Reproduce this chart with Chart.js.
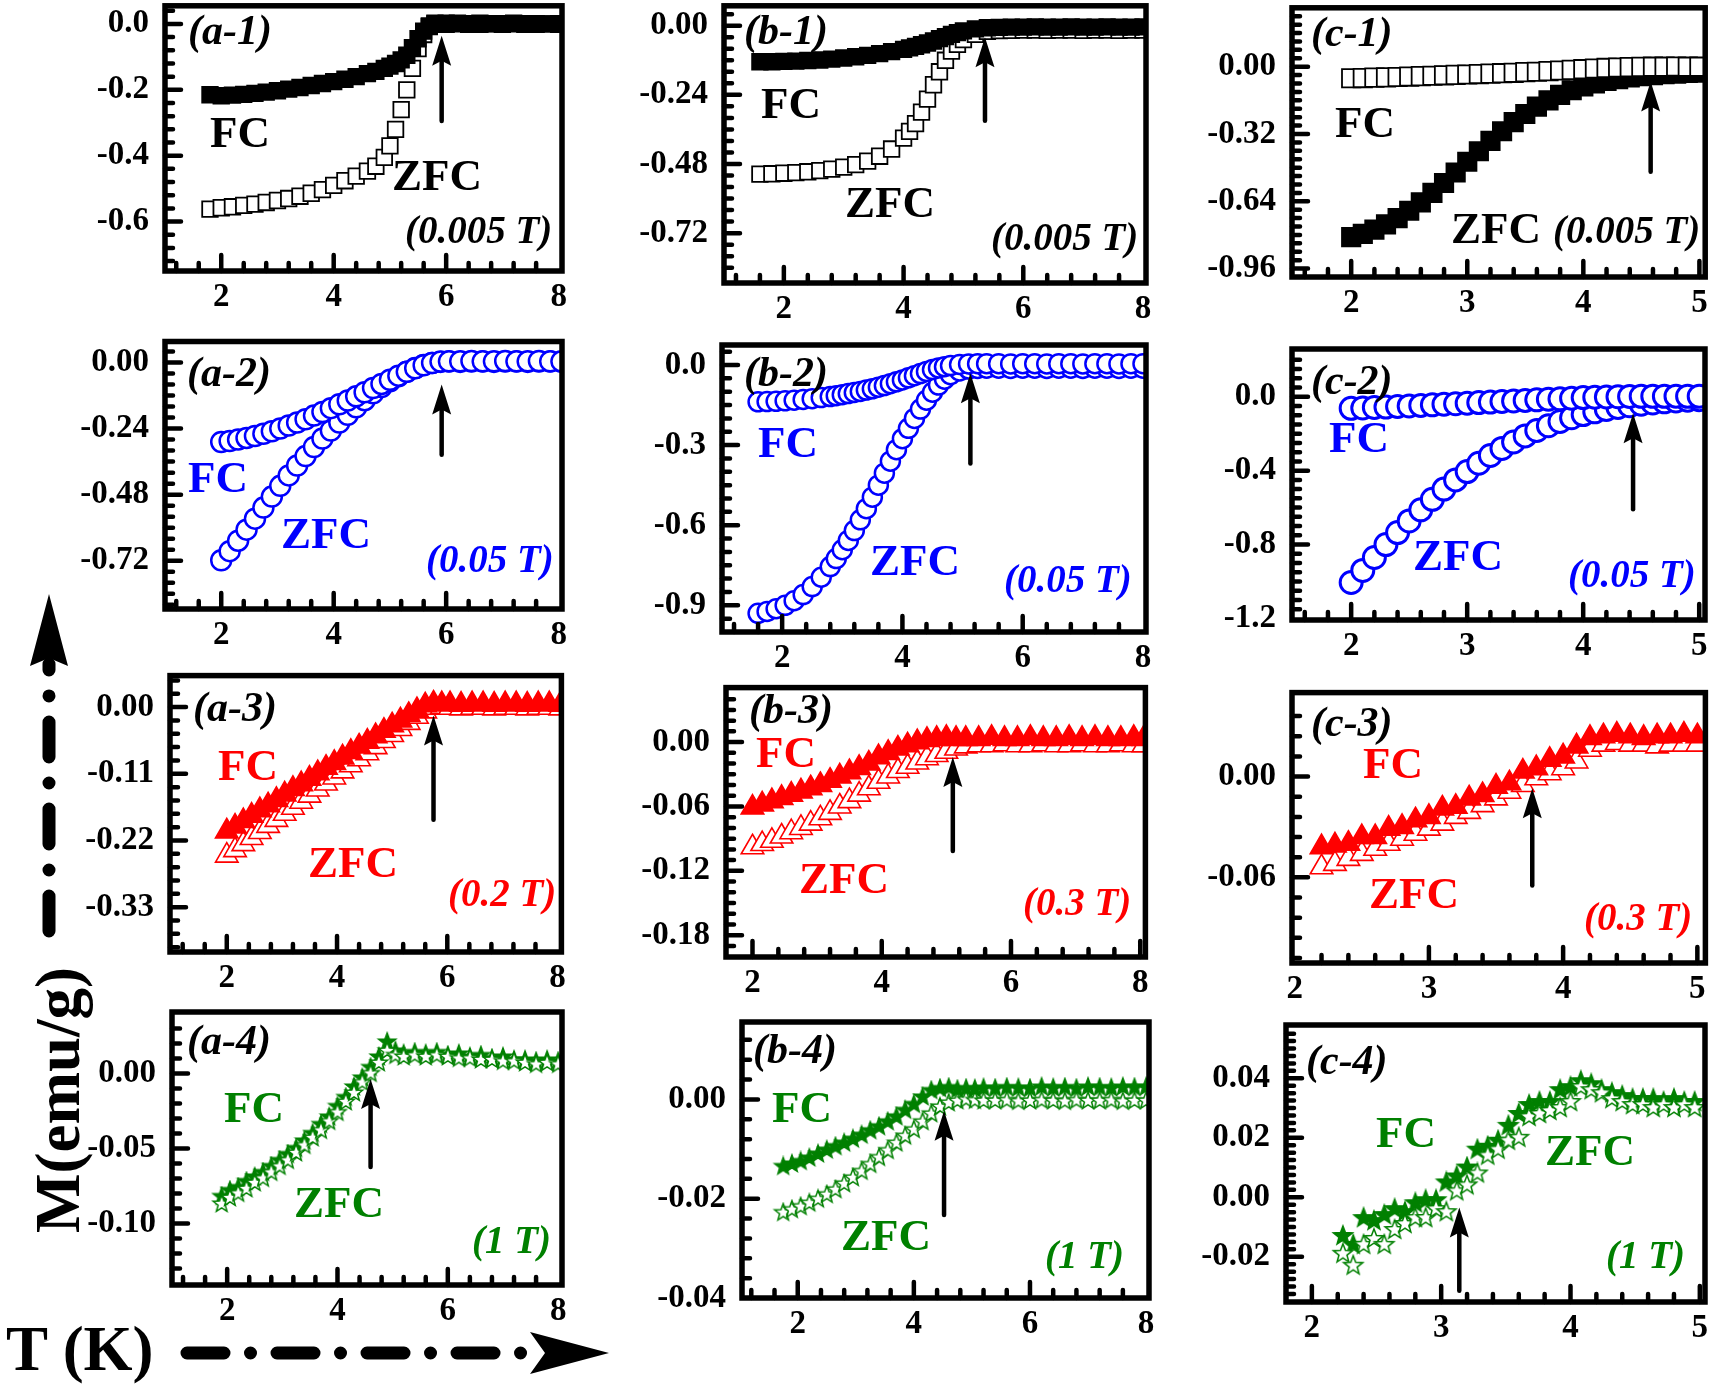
<!DOCTYPE html>
<html>
<head>
<meta charset="utf-8">
<script src="https://cdn.jsdelivr.net/npm/chart.js@4.4.0/dist/chart.umd.min.js"></script>
<style>
  html, body { margin: 0; padding: 0; background: #fff; }
  body { width: 1720px; height: 1385px; position: relative; overflow: hidden; }
  canvas.panel { position: absolute; }
  #axes { position: absolute; left: 0; top: 0; }
  #ylabel { position: absolute; left: 58px; top: 1100px; transform: translate(-50%, -50%) rotate(-90deg);
            font: bold 63px "Liberation Serif", serif; line-height: 1; white-space: nowrap; }
  #xlabel { position: absolute; left: 6px; top: 1318px; font: bold 63px "Liberation Serif", serif;
            line-height: 1; white-space: nowrap; }
</style>
</head>
<body>
<svg id="axes" width="1720" height="1385">
  <line x1="49" y1="931" x2="49" y2="664" stroke="#000" stroke-width="13" stroke-linecap="round" stroke-dasharray="35 26 0.01 26"/>
  <polygon points="49,594 68,666 49,658 30,666" fill="#000"/>
  <line x1="187" y1="1353" x2="536" y2="1353" stroke="#000" stroke-width="13" stroke-linecap="round" stroke-dasharray="37 26.5 0.01 26.5"/>
  <polygon points="530,1332 609,1353 530,1374 545,1353" fill="#000"/>
</svg>
<div id="ylabel">M(emu/g)</div>
<div id="xlabel">T (K)</div>
<script>
// ---- tick labels ----
const xTicksAB = [2, 4, 6, 8];
const xTicksC = [2, 3, 4, 5];
const a1Y = [-0.6, -0.4, -0.2, 0];
const b1Y = [-0.72, -0.48, -0.24, 0];
const c1Y = [-0.96, -0.64, -0.32, 0];
const a2Y = [-0.72, -0.48, -0.24, 0];
const b2Y = [-0.9, -0.6, -0.3, 0];
const c2Y = [-1.2, -0.8, -0.4, 0];
const a3Y = [-0.33, -0.22, -0.11, 0];
const b3Y = [-0.18, -0.12, -0.06, 0];
const c3Y = [-0.06, 0];
const a4Y = [-0.1, -0.05, 0];
const b4Y = [-0.04, -0.02, 0];
const c4Y = [-0.02, 0, 0.02, 0.04];

// ---- measured data: T (K) and M (emu/g) ----
const a1T = [1.8, 2.0, 2.2, 2.4, 2.6, 2.8, 3.0, 3.2, 3.4, 3.6, 3.8, 4.0, 4.2, 4.4, 4.6, 4.75, 4.9,
  5.0, 5.1, 5.2, 5.3, 5.4, 5.5, 5.6, 5.7, 5.8, 6.0, 6.2, 6.4, 6.6, 6.8, 7.0, 7.2, 7.4, 7.6, 7.8, 8.0];
const a1FC = [-0.215, -0.218, -0.216, -0.214, -0.211, -0.207, -0.203, -0.198, -0.193, -0.187, -0.181, -0.175,
  -0.168, -0.16, -0.151, -0.144, -0.135, -0.128, -0.12, -0.109, -0.095, -0.072, -0.045, -0.022, -0.006, 0.002,
  0.002, 0.002, 0.001, 0.002, 0.001, 0.001, 0.002, 0.001, 0.001, 0.0, 0.001];
const a1ZFC = [-0.562, -0.558, -0.555, -0.551, -0.547, -0.542, -0.536, -0.53, -0.523, -0.514, -0.503, -0.49,
  -0.476, -0.462, -0.447, -0.432, -0.405, -0.37, -0.32, -0.26, -0.2, -0.135, -0.075, -0.032, -0.008, 0.0,
  -0.001, 0.0, -0.001, -0.001, 0.0, -0.001, 0.0, -0.001, -0.001, 0.0, -0.001];

const b1T = [1.6, 1.8, 2.0, 2.2, 2.4, 2.6, 2.8, 3.0, 3.2, 3.4, 3.6, 3.8, 4.0, 4.1, 4.2, 4.3, 4.4, 4.5, 4.6,
  4.7, 4.8, 4.9, 5.0, 5.2, 5.4, 5.6, 5.8, 6.0, 6.2, 6.4, 6.6, 6.8, 7.0, 7.2, 7.4, 7.6, 7.8, 8.0];
const b1FC = [-0.125, -0.125, -0.124, -0.123, -0.121, -0.119, -0.116, -0.112, -0.108, -0.103, -0.097, -0.090,
  -0.082, -0.077, -0.072, -0.066, -0.060, -0.053, -0.045, -0.038, -0.030, -0.024, -0.018, -0.011, -0.007,
  -0.006, -0.005, -0.005, -0.004, -0.005, -0.005, -0.004, -0.005, -0.005, -0.004, -0.005, -0.005, -0.004];
const b1ZFC = [-0.515, -0.514, -0.512, -0.510, -0.507, -0.503, -0.498, -0.491, -0.482, -0.470, -0.453, -0.428,
  -0.39, -0.367, -0.34, -0.30, -0.255, -0.205, -0.16, -0.12, -0.088, -0.065, -0.048, -0.03, -0.02, -0.017,
  -0.016, -0.015, -0.015, -0.016, -0.015, -0.015, -0.016, -0.015, -0.015, -0.016, -0.015, -0.015];

const c1T = [2.0, 2.1, 2.2, 2.3, 2.4, 2.5, 2.6, 2.7, 2.8, 2.9, 3.0, 3.1, 3.2, 3.3, 3.4, 3.5, 3.6, 3.7, 3.8,
  3.9, 4.0, 4.1, 4.2, 4.3, 4.4, 4.5, 4.6, 4.7, 4.8, 4.9, 5.0];
const c1FC = [-0.055, -0.054, -0.052, -0.051, -0.049, -0.047, -0.045, -0.043, -0.041, -0.039, -0.037, -0.035,
  -0.033, -0.031, -0.029, -0.026, -0.024, -0.021, -0.018, -0.015, -0.012, -0.009, -0.006, -0.004, -0.002,
  -0.001, 0.0, 0.0, 0.001, 0.0, 0.0];
const c1ZFC = [-0.81, -0.795, -0.775, -0.75, -0.72, -0.685, -0.645, -0.60, -0.553, -0.503, -0.452, -0.402,
  -0.353, -0.307, -0.264, -0.225, -0.19, -0.16, -0.134, -0.112, -0.094, -0.080, -0.068, -0.059, -0.051,
  -0.045, -0.04, -0.036, -0.033, -0.03, -0.028];

const a2T = [2.0, 2.15, 2.3, 2.45, 2.6, 2.75, 2.9, 3.05, 3.2, 3.35, 3.5, 3.65, 3.8, 3.95, 4.1, 4.25, 4.4,
  4.55, 4.7, 4.85, 5.0, 5.15, 5.3, 5.45, 5.6, 5.75, 5.9, 6.05, 6.25, 6.45, 6.65, 6.85, 7.05, 7.25, 7.45,
  7.65, 7.85, 8.05];
const a2FC = [-0.289, -0.285, -0.28, -0.274, -0.267, -0.259, -0.25, -0.24, -0.229, -0.218, -0.206, -0.193,
  -0.18, -0.166, -0.152, -0.138, -0.123, -0.108, -0.093, -0.078, -0.063, -0.048, -0.034, -0.021, -0.01,
  -0.002, 0.003, 0.004, 0.004, 0.005, 0.004, 0.004, 0.005, 0.004, 0.004, 0.005, 0.004, 0.004];
const a2ZFC = [-0.718, -0.685, -0.647, -0.607, -0.567, -0.527, -0.487, -0.448, -0.41, -0.374, -0.34, -0.307,
  -0.276, -0.247, -0.218, -0.19, -0.163, -0.137, -0.112, -0.089, -0.068, -0.05, -0.034, -0.02, -0.009,
  -0.002, 0.002, 0.003, 0.002, 0.003, 0.003, 0.002, 0.003, 0.003, 0.002, 0.003, 0.003, 0.002];

const b2T = [1.6, 1.75, 1.9, 2.05, 2.2, 2.35, 2.5, 2.65, 2.8, 2.9, 3.0, 3.1, 3.2, 3.3, 3.4, 3.5, 3.6, 3.7,
  3.8, 3.9, 4.0, 4.1, 4.2, 4.3, 4.4, 4.5, 4.6, 4.7, 4.8, 4.95, 5.1, 5.25, 5.4, 5.6, 5.8, 6.0, 6.2, 6.4,
  6.6, 6.8, 7.0, 7.2, 7.4, 7.6, 7.8, 8.0];
const b2FC = [-0.138, -0.137, -0.136, -0.134, -0.132, -0.129, -0.126, -0.122, -0.118, -0.115, -0.111, -0.107,
  -0.103, -0.099, -0.094, -0.089, -0.083, -0.077, -0.07, -0.063, -0.056, -0.048, -0.04, -0.032, -0.024,
  -0.017, -0.011, -0.006, -0.002, 0.002, 0.004, 0.005, 0.005, 0.005, 0.004, 0.005, 0.005, 0.004, 0.005,
  0.005, 0.004, 0.005, 0.005, 0.004, 0.005, 0.005];
const b2ZFC = [-0.93, -0.923, -0.913, -0.90, -0.883, -0.86, -0.83, -0.795, -0.755, -0.725, -0.692, -0.657,
  -0.62, -0.58, -0.538, -0.495, -0.45, -0.405, -0.36, -0.317, -0.276, -0.237, -0.20, -0.165, -0.132,
  -0.102, -0.075, -0.053, -0.036, -0.022, -0.015, -0.013, -0.012, -0.012, -0.013, -0.012, -0.012, -0.013,
  -0.012, -0.012, -0.013, -0.012, -0.012, -0.013, -0.012, -0.012];

const c2T = [2.0, 2.1, 2.2, 2.3, 2.4, 2.5, 2.6, 2.7, 2.8, 2.9, 3.0, 3.1, 3.2, 3.3, 3.4, 3.5, 3.6, 3.7, 3.8,
  3.9, 4.0, 4.1, 4.2, 4.3, 4.4, 4.5, 4.6, 4.7, 4.8, 4.9, 5.0];
const c2FC = [-0.063, -0.061, -0.058, -0.056, -0.053, -0.05, -0.047, -0.044, -0.041, -0.038, -0.035, -0.032,
  -0.029, -0.026, -0.023, -0.02, -0.017, -0.014, -0.011, -0.008, -0.005, -0.003, -0.001, 0.0, 0.001, 0.002,
  0.002, 0.002, 0.003, 0.002, 0.002];
const c2ZFC = [-1.005, -0.94, -0.87, -0.80, -0.735, -0.672, -0.612, -0.555, -0.50, -0.45, -0.405, -0.36,
  -0.318, -0.28, -0.245, -0.212, -0.183, -0.157, -0.134, -0.114, -0.097, -0.082, -0.069, -0.058, -0.049,
  -0.041, -0.034, -0.028, -0.023, -0.019, -0.016];

const a3T = [2.0, 2.15, 2.3, 2.45, 2.6, 2.75, 2.9, 3.05, 3.2, 3.35, 3.5, 3.65, 3.8, 3.95, 4.1, 4.25, 4.4,
  4.55, 4.7, 4.85, 5.0, 5.15, 5.3, 5.45, 5.6, 5.75, 5.9, 6.05, 6.25, 6.45, 6.65, 6.85, 7.05, 7.25, 7.45,
  7.65, 7.85, 8.05];
const a3FC = [-0.205, -0.197, -0.188, -0.179, -0.17, -0.162, -0.153, -0.144, -0.135, -0.127, -0.118, -0.109,
  -0.1, -0.092, -0.083, -0.074, -0.065, -0.057, -0.048, -0.039, -0.03, -0.022, -0.013, -0.005, 0.003,
  0.006, 0.005, 0.005, 0.004, 0.005, 0.005, 0.004, 0.005, 0.005, 0.004, 0.005, 0.005, 0.004];
const a3ZFC = [-0.245, -0.236, -0.226, -0.216, -0.206, -0.196, -0.186, -0.176, -0.166, -0.156, -0.146, -0.136,
  -0.126, -0.116, -0.106, -0.096, -0.086, -0.076, -0.066, -0.056, -0.046, -0.036, -0.026, -0.016, -0.007,
  -0.001, 0.0, -0.001, -0.002, -0.001, -0.001, -0.002, -0.001, -0.001, -0.002, -0.001, -0.001, -0.002];

const b3T = [2.0, 2.15, 2.3, 2.45, 2.6, 2.75, 2.9, 3.05, 3.2, 3.35, 3.5, 3.65, 3.8, 3.95, 4.1, 4.25, 4.4,
  4.55, 4.7, 4.85, 5.0, 5.15, 5.3, 5.5, 5.7, 5.9, 6.1, 6.3, 6.5, 6.7, 6.9, 7.1, 7.3, 7.5, 7.7, 7.9, 8.05];
const b3FC = [-0.061, -0.058, -0.055, -0.052, -0.049, -0.046, -0.043, -0.04, -0.036, -0.032, -0.028, -0.024,
  -0.02, -0.014, -0.01, -0.006, -0.003, 0.0, 0.002, 0.003, 0.004, 0.003, 0.003, 0.003, 0.004, 0.003, 0.003,
  0.004, 0.003, 0.003, 0.004, 0.003, 0.004, 0.003, 0.003, 0.004, 0.003];
const b3ZFC = [-0.098, -0.095, -0.092, -0.088, -0.084, -0.08, -0.076, -0.071, -0.066, -0.06, -0.055, -0.049,
  -0.043, -0.037, -0.032, -0.027, -0.023, -0.019, -0.015, -0.012, -0.009, -0.006, -0.004, -0.003, -0.003,
  -0.002, -0.003, -0.003, -0.002, -0.003, -0.003, -0.002, -0.003, -0.003, -0.002, -0.003, -0.003];

const c3T = [2.2, 2.3, 2.4, 2.5, 2.6, 2.7, 2.8, 2.9, 3.0, 3.1, 3.2, 3.3, 3.4, 3.5, 3.6, 3.7, 3.8, 3.9, 4.0,
  4.1, 4.2, 4.3, 4.4, 4.5, 4.6, 4.7, 4.8, 4.9, 5.0];
const c3FC = [-0.042, -0.041, -0.040, -0.036, -0.036, -0.031, -0.030, -0.026, -0.024, -0.019, -0.018, -0.013,
  -0.011, -0.006, -0.004, 0.003, 0.005, 0.010, 0.012, 0.018, 0.023, 0.024, 0.025, 0.024, 0.023, 0.024,
  0.024, 0.025, 0.024];
const c3ZFC = [-0.054, -0.052, -0.049, -0.046, -0.043, -0.04, -0.037, -0.034, -0.031, -0.028, -0.024, -0.021,
  -0.017, -0.013, -0.009, -0.005, -0.001, 0.002, 0.005, 0.009, 0.016, 0.019, 0.02, 0.019, 0.019, 0.018,
  0.019, 0.019, 0.019];

const a4T = [1.9, 2.05, 2.2, 2.35, 2.5, 2.65, 2.8, 2.95, 3.1, 3.25, 3.4, 3.55, 3.7, 3.85, 4.0, 4.15, 4.3,
  4.45, 4.6, 4.75, 4.9, 5.05, 5.2, 5.4, 5.6, 5.8, 6.0, 6.2, 6.4, 6.6, 6.8, 7.0, 7.2, 7.4, 7.6, 7.8, 8.0];
const a4FC = [-0.082, -0.078, -0.076, -0.072, -0.069, -0.066, -0.062, -0.058, -0.054, -0.05, -0.045, -0.04,
  -0.034, -0.029, -0.022, -0.016, -0.009, -0.003, 0.004, 0.011, 0.021, 0.015, 0.013, 0.014, 0.013, 0.014,
  0.012, 0.013, 0.011, 0.012, 0.010, 0.011, 0.009, 0.009, 0.008, 0.009, 0.008];
const a4ZFC = [-0.087, -0.083, -0.08, -0.077, -0.073, -0.07, -0.066, -0.062, -0.058, -0.053, -0.048, -0.043,
  -0.038, -0.032, -0.026, -0.019, -0.013, -0.006, 0.0, 0.007, 0.015, 0.012, 0.011, 0.012, 0.011, 0.012,
  0.011, 0.01, 0.01, 0.009, 0.009, 0.008, 0.008, 0.007, 0.006, 0.007, 0.006];

const b4T = [1.75, 1.9, 2.05, 2.2, 2.35, 2.5, 2.65, 2.8, 2.95, 3.1, 3.25, 3.4, 3.55, 3.7, 3.85, 4.0, 4.15,
  4.3, 4.45, 4.6, 4.75, 4.9, 5.05, 5.2, 5.4, 5.6, 5.8, 6.0, 6.2, 6.4, 6.6, 6.8, 7.0, 7.2, 7.4, 7.6, 7.8, 8.0];
const b4FC = [-0.0135, -0.013, -0.0125, -0.0118, -0.011, -0.0102, -0.0095, -0.0088, -0.008, -0.0072,
  -0.0063, -0.0055, -0.0045, -0.0035, -0.0022, -0.001, 0.0005, 0.0018, 0.0022, 0.0024, 0.002, 0.0022,
  0.0021, 0.0023, 0.0022, 0.0024, 0.0023, 0.0022, 0.0025, 0.0023, 0.0024, 0.0022, 0.0025, 0.0024, 0.0023,
  0.0025, 0.0024, 0.0025];
const b4ZFC = [-0.0228, -0.0222, -0.0216, -0.0209, -0.0201, -0.0192, -0.0182, -0.017, -0.0158, -0.0145,
  -0.0131, -0.0117, -0.0103, -0.0088, -0.0074, -0.0061, -0.0045, -0.0029, -0.0015, -0.0007, -0.0003, 0.0,
  -0.0002, -0.0003, -0.0003, -0.0002, -0.0004, -0.0003, -0.0002, -0.0003, -0.0004, -0.0002, -0.0003,
  -0.0003, -0.0002, -0.0004, -0.0003, -0.0003];

const c4T = [2.24, 2.32, 2.40, 2.48, 2.56, 2.64, 2.72, 2.80, 2.88, 2.96, 3.04, 3.12, 3.20, 3.28, 3.36, 3.44,
  3.52, 3.60, 3.68, 3.76, 3.84, 3.92, 4.00, 4.08, 4.16, 4.24, 4.32, 4.40, 4.48, 4.56, 4.64, 4.72, 4.80,
  4.88, 4.96];
const c4FC = [-0.013, -0.016, -0.007, -0.008, -0.006, -0.004, -0.005, -0.002, -0.001, -0.001, 0.005, 0.007,
  0.010, 0.016, 0.017, 0.019, 0.024, 0.028, 0.031, 0.032, 0.032, 0.036, 0.037, 0.039, 0.038, 0.036, 0.035,
  0.034, 0.033, 0.033, 0.033, 0.032, 0.033, 0.032, 0.032];
const c4ZFC = [-0.019, -0.023, -0.016, -0.014, -0.016, -0.011, -0.009, -0.007, -0.007, -0.004, -0.005, 0.002,
  0.004, 0.008, 0.014, 0.016, 0.019, 0.020, 0.027, 0.028, 0.029, 0.030, 0.032, 0.037, 0.036, 0.035, 0.033,
  0.032, 0.031, 0.031, 0.030, 0.031, 0.030, 0.031, 0.030];

// transition arrows: [T, M tail, M head]
const arrows = {
  a1: [5.92, -0.295, -0.036], b1: [5.36, -0.33, -0.04], c1: [4.58, -0.50, -0.07],
  a2: [5.92, -0.335, -0.08], b2: [5.13, -0.369, -0.031], c2: [4.43, -0.609, -0.089],
  a3: [5.75, -0.186, -0.014], b3: [5.1, -0.1015, -0.0138], c3: [3.77, -0.0649, -0.0069],
  a4: [4.6, -0.0624, -0.0036], b4: [4.52, -0.0233, -0.0023], c4: [3.14, -0.0314, -0.0034]
};
const fields = ['(0.005 T)', '(0.05 T)', '(0.2 T)', '(0.3 T)', '(1 T)'];

const BLACK = '#000000', BLUE = '#0000ff', RED = '#ff0000', GREEN = '#008000';
const FAMILY = '"Liberation Serif", "Times New Roman", serif';
const PAD_L = 130, PAD_T = 12, PAD_R = 14, PAD_B = 50;

// layout + style per panel (box = plot frame in page pixels)
const panels = [
  { name: '(a-1)', box: [165, 5, 562, 271], xr: [1.0, 8.06], yr: [-0.75, 0.055], yT: a1Y, dec: 1, yMinor: 0.04,
    xT: xTicksAB, xMinor: 0.4, T: a1T, FC: a1FC, ZFC: a1ZFC, color: BLACK, marker: 'rect', r: 11, bw: 1.8,
    fcFill: true, zfcFill: false, fcTop: true, arrow: arrows.a1, field: fields[0],
    at: { name: [188, 44], fc: [210, 147], zfc: [392, 190], field: [405, 243] } },
  { name: '(b-1)', box: [724, 5, 1146, 283], xr: [1.0, 8.05], yr: [-0.893, 0.069], yT: b1Y, dec: 2, yMinor: 0.04,
    xT: xTicksAB, xMinor: 0.4, T: b1T, FC: b1FC, ZFC: b1ZFC, color: BLACK, marker: 'rect', r: 11, bw: 1.8,
    fcFill: true, zfcFill: false, fcTop: true, arrow: arrows.b1, field: fields[0],
    at: { name: [744, 44], fc: [761, 118], zfc: [845, 217], field: [991, 250] } },
  { name: '(c-1)', box: [1292, 5, 1706, 277], xr: [1.49, 5.05], yr: [-1.0, 0.28], yT: c1Y, dec: 2, yMinor: 0.04,
    xT: xTicksC, xMinor: 0.2, T: c1T, FC: c1FC, ZFC: c1ZFC, color: BLACK, marker: 'rect', r: 13, bw: 1.8,
    fcFill: false, zfcFill: true, fcTop: true, arrow: arrows.c1, field: fields[0],
    at: { name: [1311, 46], fc: [1335, 137], zfc: [1451, 243], field: [1553, 243] } },
  { name: '(a-2)', box: [165, 341, 562, 609], xr: [1.0, 8.06], yr: [-0.895, 0.076], yT: a2Y, dec: 2, yMinor: 0.04,
    xT: xTicksAB, xMinor: 0.4, T: a2T, FC: a2FC, ZFC: a2ZFC, color: BLUE, marker: 'circle', r: 10, bw: 2.5,
    fcFill: false, zfcFill: false, fcTop: true, arrow: arrows.a2, field: fields[1],
    at: { name: [187, 386], fc: [188, 492], zfc: [281, 548], field: [426, 572] } },
  { name: '(b-2)', box: [722, 345, 1146, 632], xr: [1.0, 8.05], yr: [-1.0, 0.075], yT: b2Y, dec: 1, yMinor: 0.05,
    xT: xTicksAB, xMinor: 0.4, T: b2T, FC: b2FC, ZFC: b2ZFC, color: BLUE, marker: 'circle', r: 9.5, bw: 2.5,
    fcFill: false, zfcFill: false, fcTop: true, arrow: arrows.b2, field: fields[1],
    at: { name: [744, 386], fc: [758, 457], zfc: [870, 575], field: [1004, 592] } },
  { name: '(c-2)', box: [1292, 347, 1705, 620], xr: [1.49, 5.05], yr: [-1.208, 0.258], yT: c2Y, dec: 1, yMinor: 0.05,
    xT: xTicksC, xMinor: 0.2, T: c2T, FC: c2FC, ZFC: c2ZFC, color: BLUE, marker: 'circle', r: 11, bw: 3,
    fcFill: false, zfcFill: false, fcTop: true, arrow: arrows.c2, field: fields[1],
    at: { name: [1311, 394], fc: [1329, 452], zfc: [1413, 570], field: [1568, 587] } },
  { name: '(a-3)', box: [170, 673, 562, 952], xr: [0.97, 8.07], yr: [-0.404, 0.052], yT: a3Y, dec: 2, yMinor: 0.022,
    xT: xTicksAB, xMinor: 0.4, T: a3T, FC: a3FC, ZFC: a3ZFC, color: RED, marker: 'triangle', r: 13, bw: 1.6,
    fcFill: true, zfcFill: false, fcTop: true, arrow: arrows.a3, field: fields[2],
    at: { name: [193, 721], fc: [218, 780], zfc: [308, 877], field: [448, 906] } },
  { name: '(b-3)', box: [726, 685, 1146, 957], xr: [1.59, 8.08], yr: [-0.2003, 0.0508], yT: b3Y, dec: 2, yMinor: 0.01,
    xT: xTicksAB, xMinor: 0.4, T: b3T, FC: b3FC, ZFC: b3ZFC, color: RED, marker: 'triangle', r: 13, bw: 1.6,
    fcFill: true, zfcFill: false, fcTop: true, arrow: arrows.b3, field: fields[3],
    at: { name: [749, 723], fc: [756, 767], zfc: [799, 893], field: [1023, 915] } },
  { name: '(c-3)', box: [1292, 690, 1706, 963], xr: [1.98, 5.06], yr: [-0.111, 0.050], yT: c3Y, dec: 2, yMinor: 0.012,
    xT: xTicksC, xMinor: 0.2, T: c3T, FC: c3FC, ZFC: c3ZFC, color: RED, marker: 'triangle', r: 13, bw: 1.6,
    fcFill: true, zfcFill: false, fcTop: true, arrow: arrows.c3, field: fields[3],
    at: { name: [1311, 736], fc: [1363, 778], zfc: [1369, 908], field: [1584, 930] } },
  { name: '(a-4)', box: [172, 1012, 562, 1285], xr: [1.0, 8.07], yr: [-0.141, 0.041], yT: a4Y, dec: 2, yMinor: 0.01,
    xT: xTicksAB, xMinor: 0.4, T: a4T, FC: a4FC, ZFC: a4ZFC, color: GREEN, marker: 'star', r: 9, bw: 1.5,
    fcFill: true, zfcFill: false, fcTop: false, arrow: arrows.a4, field: fields[4],
    at: { name: [187, 1054], fc: [224, 1122], zfc: [294, 1217], field: [472, 1253] } },
  { name: '(b-4)', box: [742, 1022, 1149, 1298], xr: [1.04, 8.05], yr: [-0.04, 0.0156], yT: b4Y, dec: 2, yMinor: 0.004,
    xT: xTicksAB, xMinor: 0.4, T: b4T, FC: b4FC, ZFC: b4ZFC, color: GREEN, marker: 'star', r: 9, bw: 1.5,
    fcFill: true, zfcFill: false, fcTop: true, arrow: arrows.b4, field: fields[4],
    at: { name: [753, 1063], fc: [772, 1122], zfc: [841, 1250], field: [1045, 1268] } },
  { name: '(c-4)', box: [1286, 1025, 1705, 1302], xr: [1.8, 5.04], yr: [-0.0352, 0.0579], yT: c4Y, dec: 2, yMinor: 0.0025,
    xT: xTicksC, xMinor: 0.2, T: c4T, FC: c4FC, ZFC: c4ZFC, color: GREEN, marker: 'star', r: 10, bw: 1.5,
    fcFill: true, zfcFill: false, fcTop: false, arrow: arrows.c4, field: fields[4],
    at: { name: [1306, 1074], fc: [1376, 1147], zfc: [1545, 1165], field: [1606, 1268] } }
];

// 5-point star marker (Chart.js 'star' is an asterisk)
function starImage(color, filled, r) {
  const s = Math.ceil(r * 2 + 4);
  const c = document.createElement('canvas');
  c.width = s; c.height = s;
  const g = c.getContext('2d');
  g.translate(s / 2, s / 2);
  g.beginPath();
  for (let i = 0; i < 10; i++) {
    const rr = i % 2 ? r * 0.42 : r;
    const ang = -Math.PI / 2 + i * Math.PI / 5;
    g.lineTo(rr * Math.cos(ang), rr * Math.sin(ang));
  }
  g.closePath();
  g.fillStyle = filled ? color : '#ffffff';
  g.fill();
  g.lineWidth = 1.5; g.strokeStyle = color; g.lineJoin = 'miter';
  g.stroke();
  return c;
}

function makeDeco(p, ox, oy) {
  const nearMajor = (v, list, step) => list.some(m => Math.abs(m - v) < step * 0.05);
  return {
    id: 'deco',
    afterDatasetsDraw(chart) {
      const { ctx, scales: { x, y } } = chart;
      const ax = x.getPixelForValue(p.arrow[0]);
      const yt = y.getPixelForValue(p.arrow[1]);
      const yh = y.getPixelForValue(p.arrow[2]);
      ctx.save();
      ctx.strokeStyle = '#000'; ctx.fillStyle = '#000';
      ctx.lineWidth = 4.5; ctx.lineCap = 'round';
      ctx.beginPath(); ctx.moveTo(ax, yt); ctx.lineTo(ax, yh + 22); ctx.stroke();
      ctx.beginPath();
      ctx.moveTo(ax, yh); ctx.lineTo(ax + 9.5, yh + 30); ctx.lineTo(ax, yh + 25); ctx.lineTo(ax - 9.5, yh + 30);
      ctx.closePath(); ctx.fill();
      ctx.textAlign = 'left'; ctx.textBaseline = 'alphabetic';
      const texts = [
        [p.name, p.at.name, 'italic bold 42px ' + FAMILY, '#000'],
        ['FC', p.at.fc, 'bold 45px ' + FAMILY, p.color],
        ['ZFC', p.at.zfc, 'bold 45px ' + FAMILY, p.color],
        [p.field, p.at.field, 'italic bold 39px ' + FAMILY, p.color]
      ];
      for (const [s, pos, font, col] of texts) {
        ctx.font = font; ctx.fillStyle = col;
        ctx.fillText(s, pos[0] - ox, pos[1] - oy);
      }
      ctx.restore();
    },
    afterDraw(chart) {
      const { ctx, chartArea: a, scales: { x, y } } = chart;
      ctx.save();
      ctx.strokeStyle = '#000'; ctx.lineCap = 'round'; ctx.lineWidth = 4.5;
      ctx.beginPath();
      for (let k = Math.ceil(p.yr[0] / p.yMinor - 1e-6); k * p.yMinor <= p.yr[1] + 1e-9; k++) {
        const v = k * p.yMinor, py = y.getPixelForValue(v);
        if (py > a.bottom - 4 || py < a.top + 4) continue;
        const len = nearMajor(v, p.yT, p.yMinor) ? 16 : 8;
        ctx.moveTo(a.left, py); ctx.lineTo(a.left + len, py);
      }
      for (let k = Math.ceil(p.xr[0] / p.xMinor - 1e-6); k * p.xMinor <= p.xr[1] + 1e-9; k++) {
        const v = k * p.xMinor, px = x.getPixelForValue(v);
        if (px < a.left + 4 || px > a.right - 4) continue;
        const len = nearMajor(v, p.xT, p.xMinor) ? 16 : 8;
        ctx.moveTo(px, a.bottom); ctx.lineTo(px, a.bottom - len);
      }
      ctx.stroke();
      ctx.lineWidth = 5.5; ctx.lineCap = 'butt'; ctx.lineJoin = 'miter';
      ctx.strokeRect(a.left, a.top, a.right - a.left, a.bottom - a.top);
      ctx.restore();
    }
  };
}

function series(p, label, M, filled, top) {
  return {
    label,
    data: p.T.map((t, i) => ({ x: t, y: M[i] })),
    showLine: false,
    clip: 0,
    order: top ? 0 : 1,
    pointStyle: p.marker === 'star' ? starImage(p.color, filled, p.r) : p.marker,
    pointRadius: p.r,
    pointBackgroundColor: filled ? p.color : '#ffffff',
    pointBorderColor: p.color,
    pointBorderWidth: p.bw
  };
}

const tickFont = { family: FAMILY, size: 33, weight: 'bold' };

for (const p of panels) {
  const [L, T, R, B] = p.box;
  const ox = L - PAD_L, oy = T - PAD_T;
  const cv = document.createElement('canvas');
  cv.className = 'panel';
  cv.width = (R - L) + PAD_L + PAD_R;
  cv.height = (B - T) + PAD_T + PAD_B;
  cv.style.left = ox + 'px'; cv.style.top = oy + 'px';
  cv.style.width = cv.width + 'px'; cv.style.height = cv.height + 'px';
  document.body.appendChild(cv);

  new Chart(cv, {
    type: 'scatter',
    data: {
      datasets: [
        series(p, 'FC', p.FC, p.fcFill, p.fcTop),
        series(p, 'ZFC', p.ZFC, p.zfcFill, !p.fcTop)
      ]
    },
    options: {
      responsive: false,
      animation: false,
      devicePixelRatio: 1,
      events: [],
      layout: { padding: { left: 0, top: PAD_T, right: PAD_R, bottom: 0 } },
      plugins: { legend: { display: false }, tooltip: { enabled: false } },
      scales: {
        x: {
          type: 'linear', position: 'bottom', min: p.xr[0], max: p.xr[1],
          grid: { display: false, drawTicks: false }, border: { display: false },
          ticks: { color: '#000', font: tickFont, padding: 7, maxRotation: 0, autoSkip: false,
                   callback: v => String(v) },
          afterBuildTicks: s => { s.ticks = p.xT.map(v => ({ value: v })); },
          afterFit: s => { s.height = PAD_B; s.paddingLeft = 0; s.paddingRight = 0; }
        },
        y: {
          type: 'linear', position: 'left', min: p.yr[0], max: p.yr[1],
          grid: { display: false, drawTicks: false }, border: { display: false },
          ticks: { color: '#000', font: tickFont, padding: 16, autoSkip: false,
                   callback: v => Number(v).toFixed(p.dec) },
          afterBuildTicks: s => { s.ticks = p.yT.map(v => ({ value: v })); },
          afterFit: s => { s.width = PAD_L; s.paddingTop = 0; s.paddingBottom = 0; }
        }
      }
    },
    plugins: [makeDeco(p, ox, oy)]
  });
}
</script>
</body>
</html>
